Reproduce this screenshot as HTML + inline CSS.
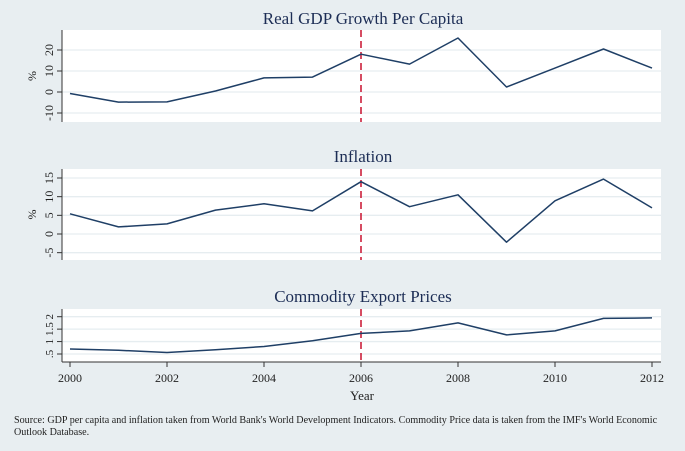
<!DOCTYPE html>
<html><head><meta charset="utf-8">
<style>
html,body{margin:0;padding:0;background:#e8eef1;}
svg{display:block;font-family:"Liberation Serif",serif;}
</style></head>
<body>
<svg id="chart" width="685" height="451" viewBox="0 0 685 451">
<rect x="0" y="0" width="685" height="451" fill="#e8eef1"/>
<g id="panels"></g>
<g id="xaxis"></g>
<text x="362" y="400" text-anchor="middle" font-size="13" fill="#222">Year</text>
<text x="14" y="423" font-size="10.1" fill="#222">Source: GDP per capita and inflation taken from World Bank's World Development Indicators. Commodity Price data is taken from the IMF's World Economic</text>
<text x="14" y="435" font-size="10.1" fill="#222">Outlook Database.</text>
</svg>
<script>
const years = [2000,2001,2002,2003,2004,2005,2006,2007,2008,2009,2010,2011,2012];
const gdpGrowth = [-0.7,-4.8,-4.7,0.5,6.7,7.1,18,13.3,25.7,2.4,11.4,20.5,11.4];
const inflation = [5.4,1.9,2.7,6.4,8.1,6.2,14,7.3,10.5,-2.2,8.9,14.7,7];
const commodity = [0.7,0.65,0.56,0.67,0.8,1.03,1.33,1.43,1.75,1.27,1.43,1.93,1.95];
const gdpTicks = [-10,0,10,20];
const gdpTickLabels = ["-10","0","10","20"];
const infTicks = [-5,0,5,10,15];
const infTickLabels = ["-5","0","5","10","15"];
const comTicks = [0.5,1,1.5,2];
const comTickLabels = [".5","1","1.5","2"];
const xTicks = [2000,2002,2004,2006,2008,2010,2012];
const eventYear = 2006;

const NS = "http://www.w3.org/2000/svg";
const svg = document.getElementById('chart');
const panelsG = document.getElementById('panels');
const xLeft = 62, xRight = 661;
function xScale(yr){ return 70 + (yr-2000)*(652-70)/12; }
function mk(tag, attrs, parent){
  const e = document.createElementNS(NS, tag);
  for (const k in attrs) e.setAttribute(k, attrs[k]);
  parent.appendChild(e); return e;
}
const panels = [
  {title:"Real GDP Growth Per Capita", key:"gdp", data:gdpGrowth, ticks:gdpTicks, labels:gdpTickLabels, top:30, bot:122, v0:0, y0:92, v1:20, y1:50, ylab:"%", titleY:24, fs:12},
  {title:"Inflation", key:"inflation", data:inflation, ticks:infTicks, labels:infTickLabels, top:169, bot:260, v0:0, y0:234, v1:15, y1:178, ylab:"%", titleY:162, fs:12},
  {title:"Commodity Export Prices", key:"commodity", data:commodity, ticks:comTicks, labels:comTickLabels, top:309, bot:362, v0:0.5, y0:354, v1:2, y1:316.7, ylab:"", titleY:302, fs:11}
];
panels.forEach(p=>{
  const g = mk('g',{},panelsG);
  
  
  const yScale = v => p.y0 + (v-p.v0)*(p.y1-p.y0)/(p.v1-p.v0);
  const bg = mk('rect',{x:xLeft,y:p.top,width:xRight-xLeft,height:p.bot-p.top,fill:'#fff'},g);
  
  
  p.ticks.forEach((t,i)=>{
    const y = yScale(t);
    const gl = mk('line',{x1:xLeft,x2:xRight,y1:y,y2:y,stroke:'#e6edf0','stroke-width':1.3},g);
    
    
    const tk = mk('line',{x1:xLeft-5,x2:xLeft,y1:y,y2:y,stroke:'#333','stroke-width':1},g);
    
    
    const tx = mk('text',{transform:`translate(${xLeft-9},${y}) rotate(-90)`,'text-anchor':'middle','font-size':p.fs,fill:'#222'},g);
    tx.textContent = p.labels[i];
    
    
  });
  const ax = mk('line',{x1:xLeft,x2:xLeft,y1:p.top,y2:p.bot,stroke:'#333','stroke-width':1},g);
  
  
  if (p.ylab){
    const yl = mk('text',{transform:`translate(36,${(p.top+p.bot)/2}) rotate(-90)`,'text-anchor':'middle','font-size':12,fill:'#222'},g);
    yl.textContent = p.ylab;
    
    
  }
  const ti = mk('text',{x:363,y:p.titleY,'text-anchor':'middle','font-size':17,fill:'#1c2d55'},g);
  ti.textContent = p.title;
  
  
  const ex = xScale(eventYear);
  const vl = mk('line',{x1:ex,x2:ex,y1:p.top,y2:p.bot,stroke:'#c8102e','stroke-width':1.5,'stroke-dasharray':'7,4'},g);
  
  
  const pts = p.data.map((v,i)=>xScale(years[i]).toFixed(1)+','+yScale(v).toFixed(1)).join(' ');
  const ln = mk('polyline',{points:pts,fill:'none',stroke:'#1f3f66','stroke-width':1.5,'stroke-linejoin':'round'},g);
  
  
});
const xg = document.getElementById('xaxis');
const xa = mk('line',{x1:xLeft,x2:xRight,y1:362,y2:362,stroke:'#333','stroke-width':1},xg);


xTicks.forEach(t=>{
  const x = xScale(t);
  const tk = mk('line',{x1:x,x2:x,y1:362,y2:367,stroke:'#333','stroke-width':1},xg);
  
  
  const tx = mk('text',{x:x,y:382,'text-anchor':'middle','font-size':12,fill:'#222'},xg);
  tx.textContent = t;
  
  
});
</script>
</body></html>
